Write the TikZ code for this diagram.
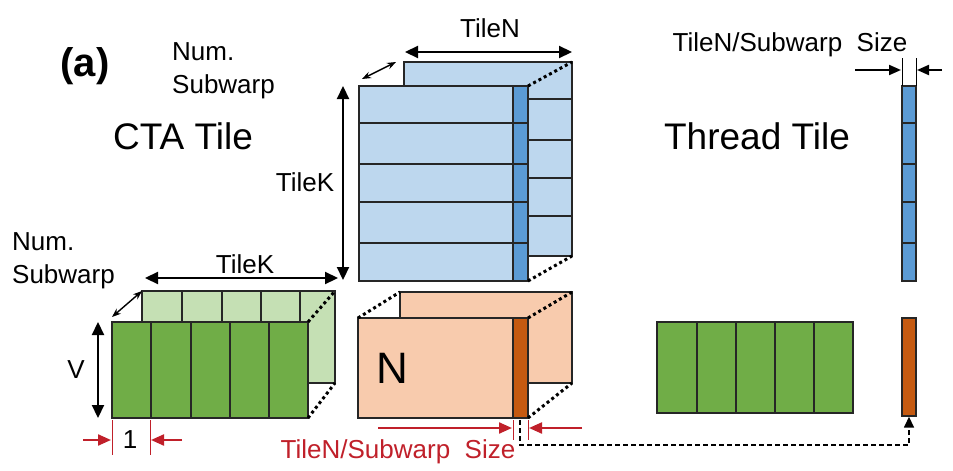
\documentclass[tikz,border=0pt]{standalone}
\usepackage{fontspec}
\setmainfont{Liberation Sans}
\usetikzlibrary{arrows.meta}
\definecolor{lb}{HTML}{BDD7EE}\definecolor{db}{HTML}{5B9BD5}
\definecolor{lo}{HTML}{F8CBAD}\definecolor{do}{HTML}{C55A11}
\definecolor{gg}{HTML}{70AD47}\definecolor{lg}{HTML}{C5E0B4}
\definecolor{rr}{HTML}{C0202A}
\begin{document}
\begin{tikzpicture}[x=1pt,y=-1pt,
 box/.style={draw=black!85,line width=1.4pt},
 dot/.style={line width=3pt,dash pattern=on 3pt off 3pt},
 dim/.style={line width=2.2pt,{Triangle[length=13pt,width=12pt]}-{Triangle[length=13pt,width=12pt]}},
 sdim/.style={line width=1.4pt,{Stealth[length=9pt]}-{Stealth[length=9pt]}},
 one/.style={line width=2pt,-{Triangle[length=12pt,width=10pt]}},
 red1/.style={rr,line width=2.2pt,-{Triangle[length=13pt,width=11pt]}},
 lab/.style={font=\fontsize{26}{28}\selectfont,inner sep=0pt},
 big/.style={font=\fontsize{37}{39}\selectfont,inner sep=0pt}]
\useasboundingbox (0,0) rectangle (953,471);
% titles
\node[big,font=\fontsize{40}{42}\selectfont\bfseries] (a) at (85,66) {(a)};
\node[big] (cta) at (183,136) {CTA Tile};
\node[big] (tt) at (757,136) {Thread Tile};
\node[lab,align=left,anchor=west] (ns1) at (172,71) {Num.\\[5pt]Subwarp};
\node[lab,align=left,anchor=west] (ns2) at (12,261) {Num.\\[5pt]Subwarp};
% blue matrix
\fill[lb,box] (404,62) rectangle (572,256);
\foreach \y in {99,140,178,216} \draw[box] (528,\y) -- (572,\y);
\fill[lb,box] (359,86) rectangle (528,281);
\foreach \y in {123,164,202,243} \draw[box] (359,\y) -- (528,\y);
\fill[db,box] (513,86) rectangle (528,281);
\foreach \y in {123,164,202,243} \draw[box] (513,\y) -- (528,\y);
\draw[dot] (528,86) -- (572,62); \draw[dot] (528,281) -- (572,256);
\coordinate (tnL) at (405,52); \coordinate (tnR) at (572,52);
\draw[dim] (tnL) -- (tnR);
\node[lab] (tilen) at (490,28) {TileN};
\coordinate (nsA) at (362,79); \coordinate (nsB) at (396,62);
\draw[sdim] (nsA) -- (nsB);
\coordinate (tkT) at (343,86); \coordinate (tkB) at (343,280);
\draw[dim] (tkT) -- (tkB);
\node[lab] (tilek) at (305,182) {TileK};
% orange matrix
\fill[lo,box] (400,292) rectangle (572,383);
\fill[lo,box] (358,318) rectangle (528,418);
\fill[do,box] (513,318) rectangle (528,418);
\draw[dot] (358,318) -- (400,292); \draw[dot] (528,318) -- (572,292); \draw[dot] (528,418) -- (572,383);
\node[font=\fontsize{44}{46}\selectfont,inner sep=0pt] (N) at (392,368) {N};
% green matrix
\fill[lg,box] (142,291) rectangle (335,383);
\foreach \x in {182,222,261,300} \draw[box] (\x,291) -- (\x,322);
\fill[gg,box] (112,322) rectangle (308,418);
\foreach \x in {151,191,230,269} \draw[box] (\x,322) -- (\x,418);
\draw[dot] (308,322) -- (335,291); \draw[dot] (308,418) -- (335,383);
\coordinate (gA) at (112,317); \coordinate (gB) at (142,291);
\draw[sdim] (gA) -- (gB);
\coordinate (gkL) at (145,278); \coordinate (gkR) at (338,278);
\draw[dim] (gkL) -- (gkR);
\node[lab] (tilek2) at (245,264) {TileK};
\coordinate (vT) at (98,322); \coordinate (vB) at (98,418);
\draw[dim] (vT) -- (vB);
\node[lab] (V) at (76,370) {V};
% "1" marker
\draw[rr,line width=1pt] (112,420) -- (112,455) (150,420) -- (150,455);
\coordinate (o1a) at (83,440); \coordinate (o1b) at (111,440);
\coordinate (o2a) at (182,440); \coordinate (o2b) at (151,440);
\draw[red1] (o1a) -- (o1b); \draw[red1] (o2a) -- (o2b);
\node[lab] (one) at (130,440) {1};
% red subwarp size
\draw[rr,line width=1pt] (513,420) -- (513,440) (528,420) -- (528,440);
\coordinate (r1a) at (378,428); \coordinate (r1b) at (512,428);
\coordinate (r2a) at (582,428); \coordinate (r2b) at (529,428);
\draw[red1] (r1a) -- (r1b); \draw[red1] (r2a) -- (r2b);
\node[lab,rr] (tns) at (398,452) {TileN/Subwarp\ \ Size};
% thread tile
\fill[gg,box] (657,322) rectangle (853,413);
\foreach \x in {697,736,775,814} \draw[box] (\x,322) -- (\x,413);
\node[fill=do,draw=black!85,line width=1.4pt,minimum width=14pt,minimum height=98pt,inner sep=0pt] (ob) at (909,367) {};
\fill[db,box] (902,86) rectangle (916,281);
\foreach \y in {123,164,202,243} \draw[box] (902,\y) -- (916,\y);
\draw[line width=1pt] (902,58) -- (902,86) (916,58) -- (916,86);
\coordinate (t1a) at (855,70); \coordinate (t1b) at (901,70);
\coordinate (t2a) at (942,70); \coordinate (t2b) at (917,70);
\draw[one] (t1a) -- (t1b); \draw[one] (t2a) -- (t2b);
\node[lab] (tns2) at (790,45) {TileN/Subwarp\ \ Size};
% dashed connector
\coordinate (ds) at (520,420);
\draw[dash pattern=on 5pt off 3pt,line width=1.6pt,-{Triangle[length=11pt,width=10pt]}] (ds) |- (909,445) -- (ob.south);
\end{tikzpicture}
\end{document}
